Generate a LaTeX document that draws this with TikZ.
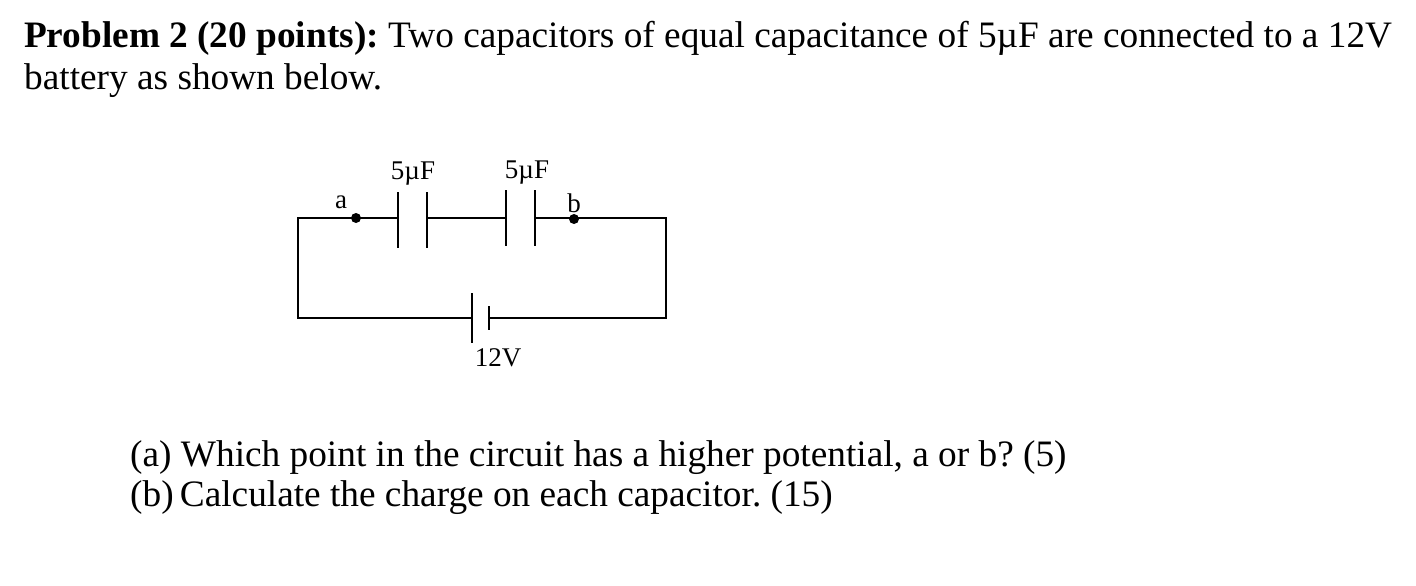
\documentclass[tikz,border=0pt]{standalone}
\usepackage{fontspec}
\setmainfont{Liberation Serif}
\frenchspacing
\begin{document}
\begin{tikzpicture}[x=1pt,y=-1pt,
  wire/.style={line width=1.4pt},
  big/.style={font=\fontsize{37.3}{40}\selectfont,anchor=base west,inner sep=0},
  lbl/.style={font=\fontsize{27}{30}\selectfont,inner sep=0},
  dotn/.style={circle,fill,inner sep=0,minimum size=10pt}]
\useasboundingbox (0,0) rectangle (1416,586);
\node[big] (t1) at (24,48) {\textbf{Problem 2 (20 points):} Two capacitors of equal capacitance of 5µF are connected to a 12V};
\node[big] (t2) at (24,89) {battery as shown below.};
\node[big] (q1) at (130,466) {(a) Which point in the circuit has a higher potential, a or b? (5)};
\node[big] (q2) at (130,506) {(b)\,Calculate the charge on each capacitor. (15)};
\coordinate (tl) at (298,218);
\coordinate (tr) at (666,218);
\coordinate (bl) at (298,318);
\coordinate (br) at (666,318);
\node[dotn] (a) at (356,218) {};
\node[dotn] (b) at (574,219) {};
\coordinate (c1l) at (398,218); \coordinate (c1r) at (427,218);
\coordinate (c2l) at (506,218); \coordinate (c2r) at (535,218);
\coordinate (bl1) at (472,318); \coordinate (bl2) at (489,318);
\draw[wire] (c1l) -- (a.center) -- (tl) -- (bl) -- (bl1);
\draw[wire] (c1r) -- (c2l);
\draw[wire] (c2r) -- (tr) -- (br) -- (bl2);
\draw[wire] (398,192) -- (398,248) (427,192) -- (427,248);
\draw[wire] (506,190) -- (506,246) (535,190) -- (535,246);
\draw[wire] (472,293) -- (472,343) (489,306) -- (489,330);
\node[lbl] (l1) at (413,174) {5µF};
\node[lbl] (l2) at (527,173) {5µF};
\node[lbl] (la) at (341,202) {a};
\node[lbl] (lb) at (574,203) {b};
\node[lbl] (lv) at (498,358) {12V};
\end{tikzpicture}
\end{document}
